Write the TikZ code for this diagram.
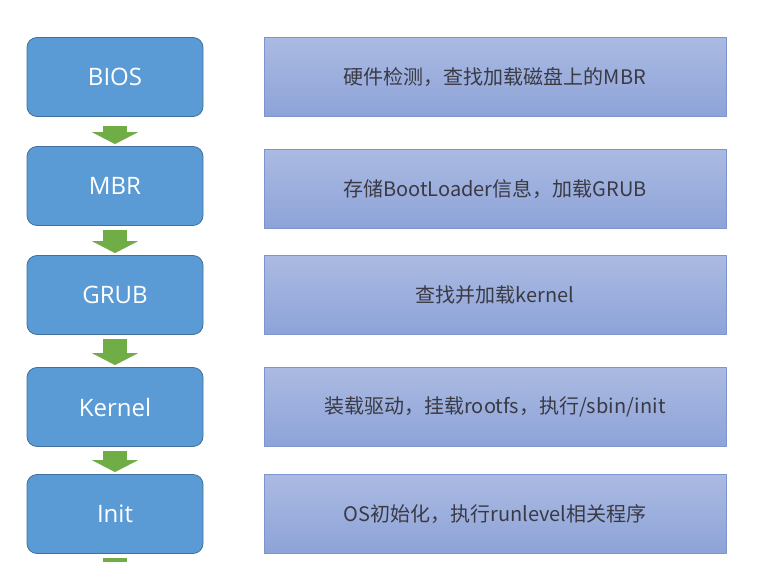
\documentclass[tikz,border=0pt]{standalone}
\usepackage{fontspec}
\setmainfont{Open Sans}
\newfontfamily\cjk{Noto Sans CJK SC}
\usetikzlibrary{arrows.meta}
\definecolor{stageblue}{RGB}{91,155,213}
\definecolor{stageline}{RGB}{65,113,156}
\definecolor{flowgreen}{RGB}{112,173,71}
\definecolor{desctop}{RGB}{171,186,226}
\definecolor{descbot}{RGB}{141,163,216}
\definecolor{descline}{RGB}{125,148,205}
\definecolor{desctext}{RGB}{58,58,68}

\begin{document}
\begin{tikzpicture}[x=1pt,y=-1pt,line join=round,
    stage/.style={draw=stageline,line width=0.8pt,fill=stageblue,rounded corners=10pt,minimum width=176pt,minimum height=79pt,text=white,font=\fontsize{24}{28}\selectfont},
    desc/.style={draw=descline,line width=0.8pt,top color=desctop,bottom color=descbot,minimum width=462pt,minimum height=79pt,text=desctext,font=\cjk\fontsize{20}{24}\selectfont},
    flow/.style={flowgreen,line width=24pt,-{Triangle[width=46pt,length=12pt]},shorten <=4pt,shorten >=2pt}]
      \clip (0,0) rectangle (758,562);
      \fill[white] (0,0) rectangle (758,562);
      \node[stage] (bios) at (115,77) {BIOS};
      \node[stage] (mbr) at (115,186) {MBR};
      \node[stage] (grub) at (115,295) {GRUB};
      \node[stage] (kernel) at (115,407) {Kernel};
      \node[stage] (init) at (115,514) {Init};
      \coordinate (next) at (115,600);
      \node[desc] (biosdesc) at (495,77) {硬件检测，查找加载磁盘上的MBR};
      \node[desc] (mbrdesc) at (495,189) {存储BootLoader信息，加载GRUB};
      \node[desc] (grubdesc) at (495,295) {查找并加载kernel};
      \node[desc] (kerneldesc) at (495,407) {装载驱动，挂载rootfs，执行/sbin/init};
      \node[desc] (initdesc) at (495,514) {OS初始化，执行runlevel相关程序};
      \draw[flow,shorten <=9pt] (bios.south) -- (mbr.north);
      \draw[flow] (mbr.south) -- (grub.north);
      \draw[flow] (grub.south) -- (kernel.north);
      \draw[flow] (kernel.south) -- (init.north);
      \draw[flow] (init.south) -- (next);
    \end{tikzpicture}
\end{document}
